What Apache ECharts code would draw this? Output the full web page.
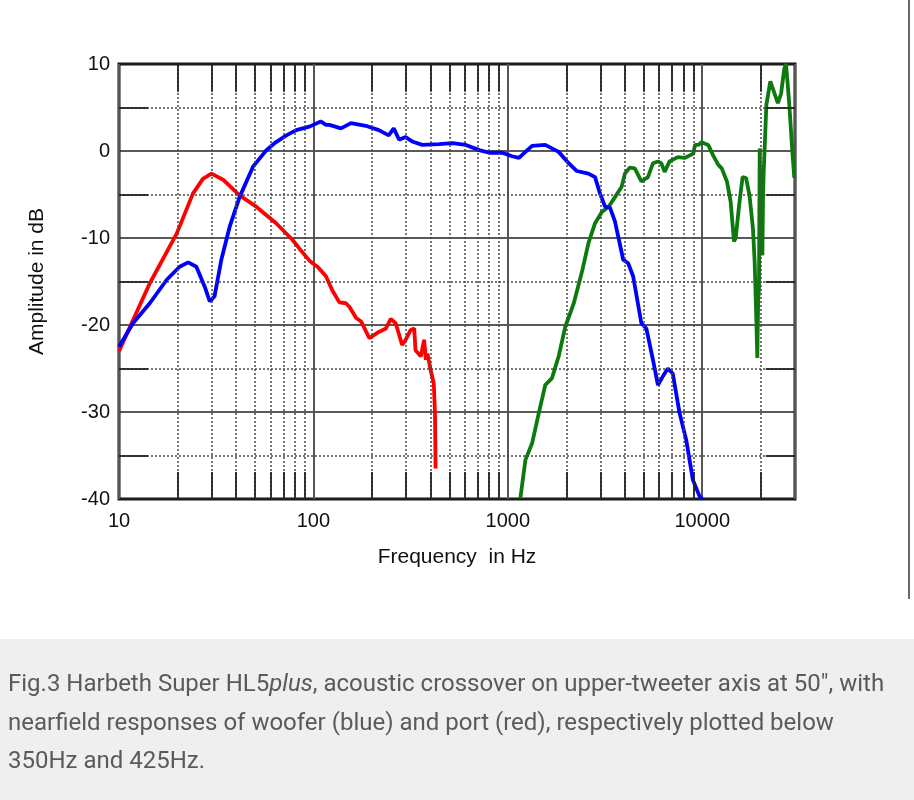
<!DOCTYPE html>
<html><head><meta charset="utf-8">
<script src="https://cdn.jsdelivr.net/npm/echarts@6/dist/echarts.min.js"></script>
<style>html,body{margin:0;padding:0;background:#fff}#c{width:914px;height:800px}</style>
</head><body><div id="c"></div>
<script>
// ---- data ----
const xTickLabels = [10, 100, 1000, 10000];
const yTickLabels = [10, 0, -10, -20, -30, -40];
const minorHz = [20,30,40,50,60,70,80,90,200,300,400,500,600,700,800,900,2000,3000,4000,5000,6000,7000,8000,9000,20000];
const minorDb = [5, -5, -15, -25, -35];

const wooferHz = [10, 11.8, 14.4, 17.6, 20.5, 22.7, 25, 27.6, 29.3, 31, 33.6, 37.1, 41.7, 48.9, 57.3, 64, 72.6, 81.5, 95.4, 109, 116, 121, 138.6, 156, 186, 217, 244, 259, 276, 298, 322, 363, 443, 519, 608, 713, 803, 935, 1052, 1140, 1232, 1333, 1558, 1826, 2055, 2265, 2598, 2810, 2981, 3162, 3354, 3556, 3923, 4160, 4411, 4863, 5157, 5579, 5917, 6274, 6655, 7057, 7640, 8270, 8950, 9690, 10000];
const wooferDb = [-22.5, -19.8, -17.5, -14.8, -13.3, -12.8, -13.3, -15.6, -17.3, -16.7, -12.5, -8.7, -5.3, -1.8, 0.1, 1.0, 1.8, 2.4, 2.8, 3.4, 3.0, 3.0, 2.6, 3.2, 2.9, 2.4, 1.8, 2.6, 1.3, 1.6, 1.1, 0.7, 0.8, 0.9, 0.7, 0.1, -0.2, -0.2, -0.6, -0.8, -0.1, 0.6, 0.7, -0.1, -1.4, -2.3, -2.6, -3.0, -4.9, -6.4, -6.5, -8.1, -12.5, -12.9, -14.4, -19.8, -20.4, -24, -26.9, -25.9, -25, -25.6, -30.1, -33.2, -37.8, -39.7, -40];

const portHz = [10, 14.4, 19.8, 24, 27, 29.9, 34.3, 41.7, 50.8, 64.3, 78, 84.6, 95.4, 99, 105, 111, 116, 125, 136, 147, 153, 166, 176, 194, 217, 236, 250, 265, 286, 298, 316, 330, 335, 357, 371, 379, 386, 401, 416, 422, 425];
const portDb = [-23, -15.2, -9.5, -4.9, -3.2, -2.6, -3.3, -5.1, -6.4, -8.3, -10.2, -11.2, -12.6, -12.9, -13.3, -13.9, -14.4, -16, -17.4, -17.5, -17.9, -19.2, -19.6, -21.5, -20.8, -20.4, -19.3, -19.8, -22.3, -21.7, -20.6, -20.4, -22.9, -23.6, -21.7, -24, -23.3, -25.2, -26.7, -30.1, -36.5];

const tweeterHz = [1160, 1232, 1333, 1444, 1558, 1688, 1826, 1975, 2184, 2417, 2598, 2810, 3045, 3300, 3556, 3852, 4000, 4243, 4500, 4863, 5258, 5579, 5917, 6155, 6402, 6790, 7486, 8107, 8995, 9180, 9547, 9920, 10740, 11370, 12100, 12600, 13400, 13990, 14570, 14870, 15480, 16125, 16800, 17500, 18230, 18600, 18990, 19200, 19400, 19580, 19750, 19900, 20150, 20390, 20550, 20710, 21370, 22400, 23550, 24480, 25440, 26450, 26980, 28050, 29160, 29750];
const tweeterDb = [-39.9, -35.5, -33.6, -30.1, -26.9, -26.1, -23.6, -20.2, -17.5, -13.7, -10.6, -8.3, -7.0, -6.4, -5.3, -4.1, -2.6, -1.9, -2.0, -3.5, -3.0, -1.4, -1.2, -1.4, -2.4, -1.2, -0.7, -0.8, -0.3, 0.7, 0.7, 1.0, 0.7, -0.5, -1.6, -2.0, -3.5, -5.8, -10.4, -10.0, -6.2, -3.0, -3.1, -5.1, -8.9, -12.7, -19.6, -23.8, -17, -15.8, 0.3, -6, -8.1, -12, -5, -2.4, 5.3, 8.0, 6.6, 5.5, 6.6, 9.5, 10, 5.3, -0.5, -3.1];

const captionLines = [
  ['Fig.3 Harbeth Super HL5', 'plus', ', acoustic crossover on upper-tweeter axis at 50", with'],
  ['nearfield responses of woofer (blue) and port (red), respectively plotted below'],
  ['350Hz and 425Hz.']
];

// ---- build ----
const zip = (a, b) => a.map((v, i) => [v, b[i]]);
const X_MIN = 10, X_MAX = 30000, Y_MIN = -40, Y_MAX = 10;

const dotted = { type: [2, 2], color: '#4a4a4a', width: 1.5 };
const stub = { type: 'solid', color: '#222', width: 1.8 };
const gridLines = [];
minorHz.forEach(f => {
  gridLines.push([{ coord: [f, Y_MIN], lineStyle: dotted }, { coord: [f, Y_MAX] }]);
  gridLines.push([{ coord: [f, Y_MAX], lineStyle: stub }, { coord: [f, Y_MAX - 3.2] }]);
  gridLines.push([{ coord: [f, Y_MIN], lineStyle: stub }, { coord: [f, Y_MIN + 3.1] }]);
});
minorDb.forEach(d => {
  gridLines.push([{ coord: [X_MIN, d], lineStyle: dotted }, { coord: [X_MAX, d] }]);
  gridLines.push([{ coord: [X_MIN, d], lineStyle: stub }, { coord: [14.1, d] }]);
  gridLines.push([{ coord: [21200, d], lineStyle: stub }, { coord: [X_MAX, d] }]);
});

const captionText = captionLines.map(parts => parts.map((p, i) => (parts.length === 3 && i === 1) ? '{i|' + p + '}' : '{n|' + p + '}').join('')).join('\n');

const chart = echarts.init(document.getElementById('c'), null, { renderer: 'canvas' });
const font = 'Liberation Sans, Arial, Helvetica, sans-serif';
chart.setOption({
  animation: false,
  backgroundColor: '#fff',
  grid: { left: 119, top: 64, width: 676, height: 435, show: true, borderColor: '#111', borderWidth: 3, backgroundColor: 'transparent' },
  xAxis: {
    type: 'log', logBase: 10, min: X_MIN, max: X_MAX,
    name: 'Frequency  in Hz', nameLocation: 'middle', nameGap: 48,
    nameTextStyle: { fontFamily: font, fontSize: 21, color: '#111' },
    axisLine: { show: false }, axisTick: { show: false },
    axisLabel: { fontFamily: font, fontSize: 20, color: '#111', margin: 12, showMaxLabel: false,
      formatter: v => { const r = Math.round(v); return xTickLabels.indexOf(r) >= 0 ? String(r) : ''; } },
    splitLine: { show: true, lineStyle: { color: '#555', width: 2 } },
    minorTick: { show: false }, minorSplitLine: { show: false }
  },
  yAxis: {
    type: 'value', min: Y_MIN, max: Y_MAX, interval: 10,
    name: 'Amplitude in dB', nameLocation: 'middle', nameGap: 71, nameRotate: 90,
    nameTextStyle: { fontFamily: font, fontSize: 21, color: '#111' },
    axisLine: { show: false }, axisTick: { show: false },
    axisLabel: { fontFamily: font, fontSize: 20, color: '#111', margin: 9,
      formatter: v => yTickLabels.indexOf(v) >= 0 ? String(v) : '' },
    splitLine: { show: true, lineStyle: { color: '#222', width: 1.6 } }
  },
  series: [
    { type: 'line', name: 'grid', data: [], z: 1, silent: true,
      markLine: { silent: true, symbol: ['none', 'none'], label: { show: false }, animation: false, data: gridLines } },
    { type: 'line', name: 'port', data: zip(portHz, portDb), z: 3, showSymbol: false, symbol: 'none',
      lineStyle: { color: '#ff0000', width: 3.8 } },
    { type: 'line', name: 'woofer', data: zip(wooferHz, wooferDb), z: 4, showSymbol: false, symbol: 'none',
      lineStyle: { color: '#0000ff', width: 3.8 } },
    { type: 'line', name: 'tweeter', data: zip(tweeterHz, tweeterDb), z: 3, showSymbol: false, symbol: 'none',
      lineStyle: { color: '#0c7a0c', width: 3.8 } }
  ],
  graphic: [
    { type: 'line', shape: { x1: 909, y1: 0, x2: 909, y2: 599 }, style: { stroke: '#6a6a6a', lineWidth: 2 }, silent: true },
    { type: 'rect', shape: { x: 0, y: 639, width: 914, height: 161 }, style: { fill: '#efefef' }, silent: true, z: -1 },
    { type: 'text', left: 8, top: 666, silent: true,
      style: { text: captionText, fill: '#5a5a5a', lineHeight: 38.5,
        rich: {
          n: { fontFamily: 'Roboto', fontSize: 24, fill: '#5a5a5a', lineHeight: 38.5 },
          i: { fontFamily: 'Roboto', fontSize: 24, fontStyle: 'italic', fill: '#5a5a5a', lineHeight: 38.5 }
        } } }
  ]
});
</script></body></html>
